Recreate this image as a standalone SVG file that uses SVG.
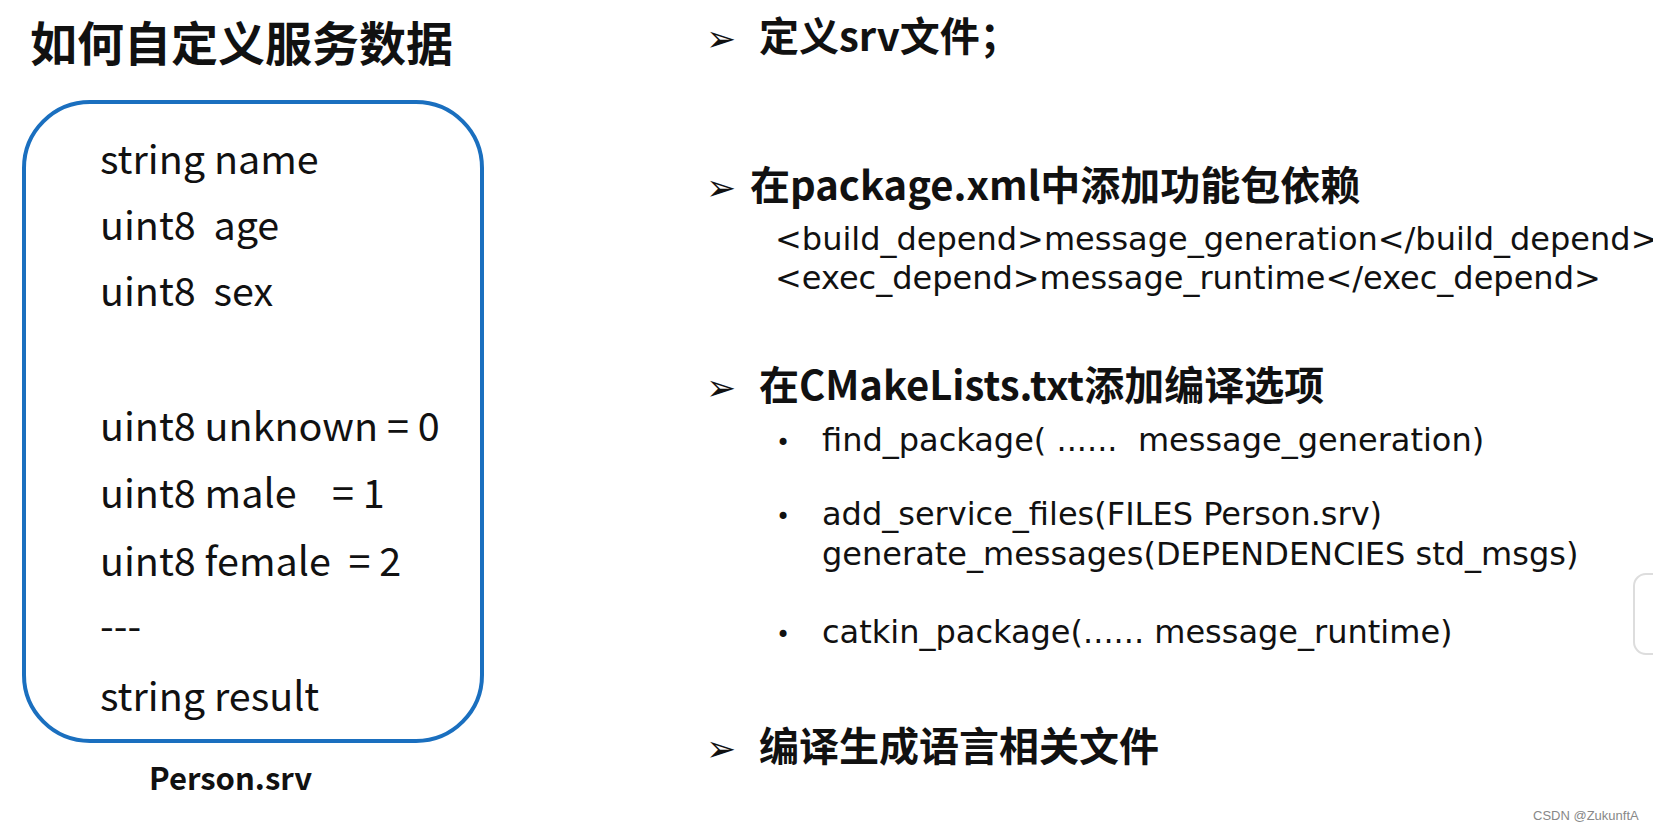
<svg xmlns="http://www.w3.org/2000/svg" width="1653" height="830" viewBox="0 0 1653 830">
<style>
.t{font-family:"Noto Sans CJK SC","Noto Sans",sans-serif;font-size:39.5px;fill:#111}
.h{font-family:"Noto Sans CJK SC","DejaVu Sans",sans-serif;font-size:40px;font-weight:bold;fill:#111}
.c{font-family:"DejaVu Sans",sans-serif;font-size:32px;fill:#111}
.a{font-family:"DejaVu Sans",sans-serif;font-size:36px;fill:#111}
</style>
<rect width="1653" height="830" fill="#fff"/>
<text x="30" y="61" class="h" style="font-size:47px">如何自定义服务数据</text>
<g id="box">
<rect x="24" y="102" width="458" height="639" rx="66" fill="none" stroke="#1a6fbf" stroke-width="4"/>
<text x="100" y="174" class="t">string name</text>
<text x="100" y="240" class="t" xml:space="preserve">uint8  age</text>
<text x="100" y="306" class="t" xml:space="preserve">uint8  sex</text>
<text x="100" y="441" class="t">uint8 unknown = 0</text>
<text x="100" y="508" class="t" xml:space="preserve">uint8 male    = 1</text>
<text x="100" y="576" class="t" xml:space="preserve">uint8 female  = 2</text>
<text x="100" y="641" class="t">---</text>
<text x="100" y="711" class="t">string result</text>
</g>
<text x="149" y="790" class="h" style="font-size:31px">Person.srv</text>
<g id="steps">
<text x="706" y="51" class="a">➢</text>
<text x="759" y="51" class="h">定义srv文件；</text>
<text x="706" y="200" class="a">➢</text>
<text x="750" y="200" class="h">在package.xml中添加功能包依赖</text>
<text x="775" y="250" class="c">&lt;build_depend&gt;message_generation&lt;/build_depend&gt;</text>
<text x="775" y="289" class="c">&lt;exec_depend&gt;message_runtime&lt;/exec_depend&gt;</text>
<text x="706" y="400" class="a">➢</text>
<text x="759" y="400" class="h">在CMakeLists.txt添加编译选项</text>
<text x="776" y="451" class="c" style="font-size:24px">•</text>
<text x="822" y="451" class="c" xml:space="preserve">find_package( ......  message_generation)</text>
<text x="776" y="525" class="c" style="font-size:24px">•</text>
<text x="822" y="525" class="c">add_service_files(FILES Person.srv)</text>
<text x="822" y="565" class="c">generate_messages(DEPENDENCIES std_msgs)</text>
<text x="776" y="643" class="c" style="font-size:24px">•</text>
<text x="822" y="643" class="c">catkin_package(...... message_runtime)</text>
<text x="706" y="761" class="a">➢</text>
<text x="759" y="761" class="h">编译生成语言相关文件</text>
</g>
<rect x="1634" y="574" width="30" height="80" rx="12" fill="#fff" stroke="#ddd" stroke-width="2"/>
<text x="1533" y="820" style="font-family:'Liberation Sans',sans-serif;font-size:13px;fill:#888">CSDN @ZukunftA</text>
</svg>
